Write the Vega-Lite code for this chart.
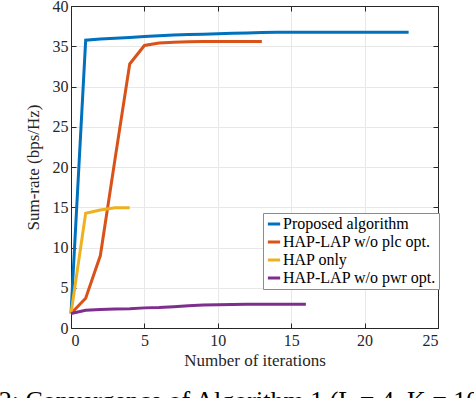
{
  "$schema": "https://vega.github.io/schema/vega-lite/v6.json",
  "autosize": "none",
  "width": 367,
  "height": 322,
  "padding": {"left": 71, "top": 6, "right": 36, "bottom": 70},
  "background": "white",
  "config": {
    "font": "Liberation Serif, serif",
    "view": {"stroke": "#262626", "strokeWidth": 1},
    "axis": {
      "labelFont": "Liberation Serif, serif",
      "titleFont": "Liberation Serif, serif",
      "labelFontSize": 16,
      "titleFontSize": 16,
      "titleFontWeight": "normal",
      "labelColor": "#262626",
      "titleColor": "#262626",
      "domainColor": "#262626",
      "tickColor": "#262626",
      "gridColor": "#e8e8e8"
    },
    "title": {"font": "Liberation Serif, serif"}
  },
  "title": {
    "text": "Fig. 2: Convergence of Algorithm 1 (L = 4, K = 10)",
    "orient": "bottom",
    "anchor": "start",
    "frame": "group",
    "font": "Liberation Serif, serif",
    "fontSize": 26,
    "fontWeight": "normal",
    "color": "black",
    "dx": -120,
    "offset": 20
  },
  "data": {
    "values": [
      {"series": "Proposed algorithm", "x": 0, "y": 1.8},
      {"series": "Proposed algorithm", "x": 1, "y": 35.75},
      {"series": "Proposed algorithm", "x": 2, "y": 35.9},
      {"series": "Proposed algorithm", "x": 3, "y": 36.0},
      {"series": "Proposed algorithm", "x": 4, "y": 36.1},
      {"series": "Proposed algorithm", "x": 5, "y": 36.2},
      {"series": "Proposed algorithm", "x": 6, "y": 36.3},
      {"series": "Proposed algorithm", "x": 7, "y": 36.4},
      {"series": "Proposed algorithm", "x": 8, "y": 36.45},
      {"series": "Proposed algorithm", "x": 9, "y": 36.5},
      {"series": "Proposed algorithm", "x": 10, "y": 36.55},
      {"series": "Proposed algorithm", "x": 11, "y": 36.6},
      {"series": "Proposed algorithm", "x": 12, "y": 36.65},
      {"series": "Proposed algorithm", "x": 13, "y": 36.7},
      {"series": "Proposed algorithm", "x": 14, "y": 36.75},
      {"series": "Proposed algorithm", "x": 15, "y": 36.75},
      {"series": "Proposed algorithm", "x": 16, "y": 36.75},
      {"series": "Proposed algorithm", "x": 17, "y": 36.75},
      {"series": "Proposed algorithm", "x": 18, "y": 36.75},
      {"series": "Proposed algorithm", "x": 19, "y": 36.75},
      {"series": "Proposed algorithm", "x": 20, "y": 36.75},
      {"series": "Proposed algorithm", "x": 21, "y": 36.75},
      {"series": "Proposed algorithm", "x": 22, "y": 36.75},
      {"series": "Proposed algorithm", "x": 23, "y": 36.75},
      {"series": "HAP-LAP w/o plc opt.", "x": 0, "y": 1.8},
      {"series": "HAP-LAP w/o plc opt.", "x": 1, "y": 3.7},
      {"series": "HAP-LAP w/o plc opt.", "x": 2, "y": 9.0},
      {"series": "HAP-LAP w/o plc opt.", "x": 3, "y": 21.0},
      {"series": "HAP-LAP w/o plc opt.", "x": 4, "y": 32.8},
      {"series": "HAP-LAP w/o plc opt.", "x": 5, "y": 35.1},
      {"series": "HAP-LAP w/o plc opt.", "x": 6, "y": 35.4},
      {"series": "HAP-LAP w/o plc opt.", "x": 7, "y": 35.5},
      {"series": "HAP-LAP w/o plc opt.", "x": 8, "y": 35.55},
      {"series": "HAP-LAP w/o plc opt.", "x": 9, "y": 35.6},
      {"series": "HAP-LAP w/o plc opt.", "x": 10, "y": 35.6},
      {"series": "HAP-LAP w/o plc opt.", "x": 11, "y": 35.6},
      {"series": "HAP-LAP w/o plc opt.", "x": 12, "y": 35.6},
      {"series": "HAP-LAP w/o plc opt.", "x": 13, "y": 35.6},
      {"series": "HAP only", "x": 0, "y": 1.8},
      {"series": "HAP only", "x": 1, "y": 14.25},
      {"series": "HAP only", "x": 2, "y": 14.65},
      {"series": "HAP only", "x": 3, "y": 14.95},
      {"series": "HAP only", "x": 4, "y": 14.95},
      {"series": "HAP-LAP w/o pwr opt.", "x": 0, "y": 1.8},
      {"series": "HAP-LAP w/o pwr opt.", "x": 1, "y": 2.2},
      {"series": "HAP-LAP w/o pwr opt.", "x": 2, "y": 2.3},
      {"series": "HAP-LAP w/o pwr opt.", "x": 3, "y": 2.35},
      {"series": "HAP-LAP w/o pwr opt.", "x": 4, "y": 2.4},
      {"series": "HAP-LAP w/o pwr opt.", "x": 5, "y": 2.5},
      {"series": "HAP-LAP w/o pwr opt.", "x": 6, "y": 2.55},
      {"series": "HAP-LAP w/o pwr opt.", "x": 7, "y": 2.65},
      {"series": "HAP-LAP w/o pwr opt.", "x": 8, "y": 2.75},
      {"series": "HAP-LAP w/o pwr opt.", "x": 9, "y": 2.85},
      {"series": "HAP-LAP w/o pwr opt.", "x": 10, "y": 2.9},
      {"series": "HAP-LAP w/o pwr opt.", "x": 11, "y": 2.92},
      {"series": "HAP-LAP w/o pwr opt.", "x": 12, "y": 2.94},
      {"series": "HAP-LAP w/o pwr opt.", "x": 13, "y": 2.95},
      {"series": "HAP-LAP w/o pwr opt.", "x": 14, "y": 2.95},
      {"series": "HAP-LAP w/o pwr opt.", "x": 15, "y": 2.95},
      {"series": "HAP-LAP w/o pwr opt.", "x": 16, "y": 2.95}
    ]
  },
  "layer": [
    {
      "mark": {"type": "line", "strokeWidth": 3, "strokeJoin": "miter"},
      "encoding": {
        "x": {
          "field": "x", "type": "quantitative",
          "scale": {"domain": [0, 25], "nice": false},
          "axis": {"values": [0, 5, 10, 15, 20, 25], "title": "Number of iterations", "labelFont": "Liberation Serif, serif", "titleFont": "Liberation Serif, serif", "labelFontSize": 16, "titleFontSize": 17, "tickSize": -5, "labelPadding": 9, "titlePadding": 4, "grid": true, "domain": true}
        },
        "y": {
          "field": "y", "type": "quantitative",
          "scale": {"domain": [0, 40], "nice": false},
          "axis": {"values": [0, 5, 10, 15, 20, 25, 30, 35, 40], "title": "Sum-rate (bps/Hz)", "labelFont": "Liberation Serif, serif", "titleFont": "Liberation Serif, serif", "labelFontSize": 16, "titleFontSize": 17, "tickSize": -5, "labelPadding": 8, "titlePadding": 10, "grid": true, "domain": true}
        },
        "color": {
          "field": "series", "type": "nominal",
          "scale": {
            "domain": ["Proposed algorithm", "HAP-LAP w/o plc opt.", "HAP only", "HAP-LAP w/o pwr opt."],
            "range": ["#0072BD", "#D95319", "#EDB120", "#7E2F8E"]
          },
          "legend": {
            "title": null,
            "orient": "none",
            "legendX": 192,
            "legendY": 207,
            "symbolType": "stroke",
            "symbolSize": 150,
            "symbolStrokeWidth": 3,
            "labelFont": "Liberation Serif, serif",
            "labelFontSize": 16,
            "labelColor": "black",
            "labelOffset": 1,
            "rowPadding": 2,
            "padding": 3,
            "strokeColor": "#8c8c8c",
            "fillColor": "white"
          }
        }
      }
    },
    {
      "mark": {"type": "line", "opacity": 0},
      "encoding": {
        "x": {
          "field": "x", "type": "quantitative",
          "axis": {"orient": "top", "values": [0, 5, 10, 15, 20, 25], "labels": false, "title": null, "tickSize": -5, "grid": false}
        },
        "y": {
          "field": "y", "type": "quantitative",
          "axis": {"orient": "right", "values": [0, 5, 10, 15, 20, 25, 30, 35, 40], "labels": false, "title": null, "tickSize": -5, "grid": false}
        },
        "detail": {"field": "series"}
      }
    }
  ],
  "resolve": {"axis": {"x": "independent", "y": "independent"}}
}
